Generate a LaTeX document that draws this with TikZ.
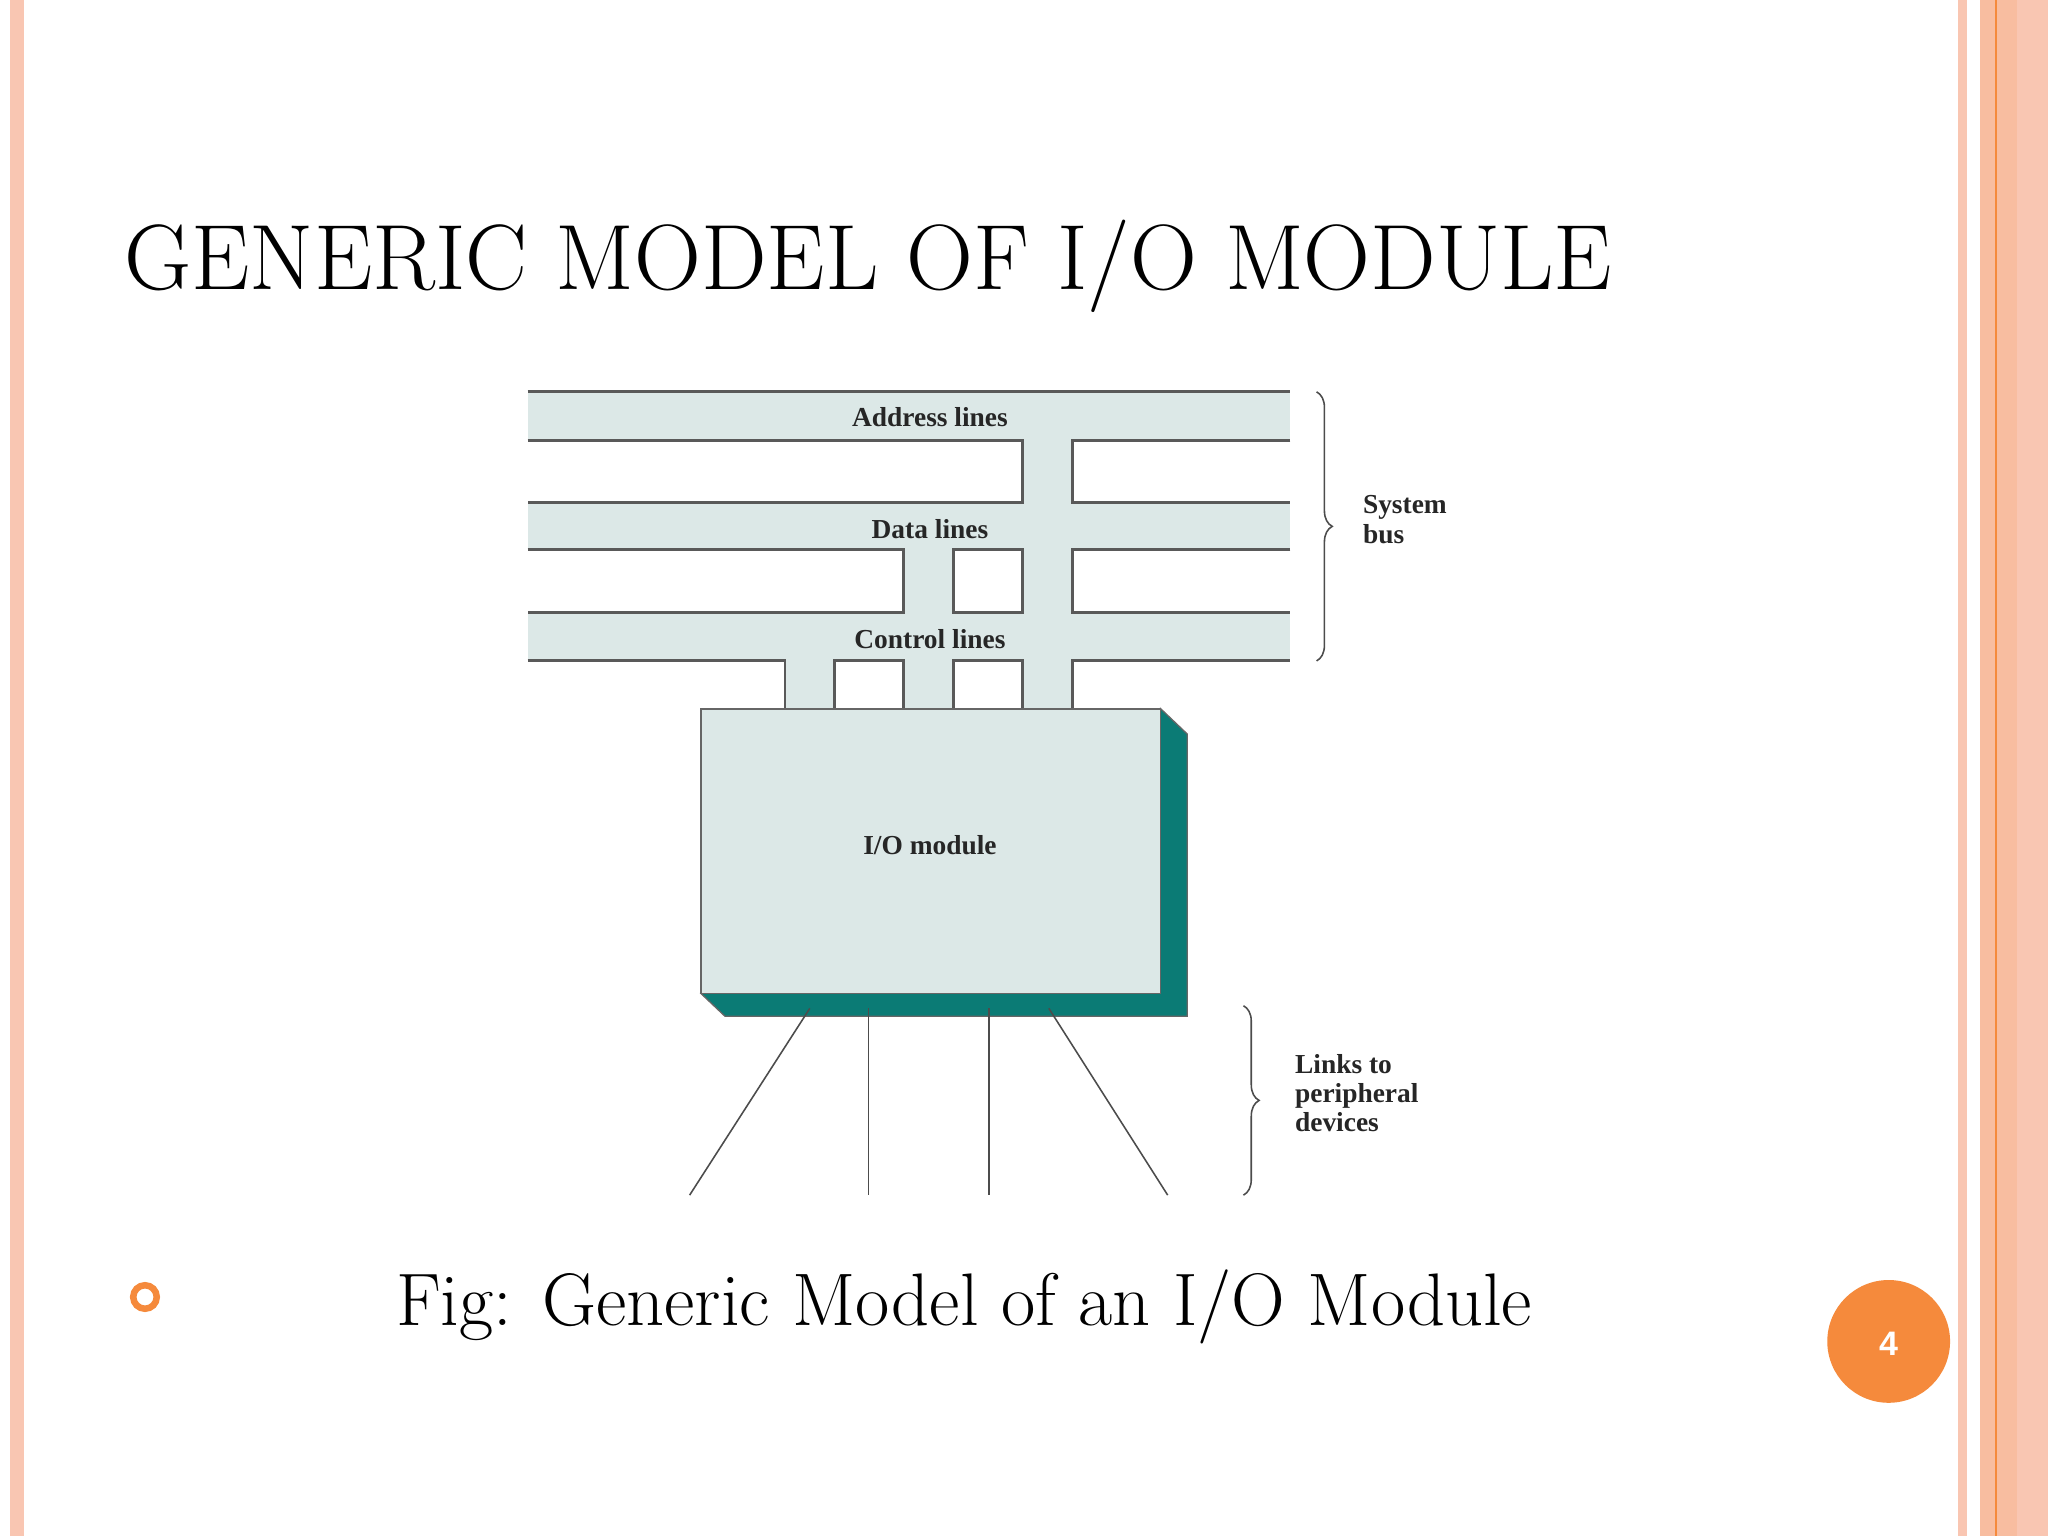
\documentclass[tikz,border=0pt]{standalone}
\usepackage{fontspec}
\newfontfamily\tnr{Liberation Serif}
\newfontfamily\lsans{Liberation Sans}
\usetikzlibrary{decorations.pathreplacing}
\definecolor{busfill}{HTML}{DCE8E7}
\definecolor{teal2}{HTML}{0B7B75}
\definecolor{pinkb}{HTML}{F9C6B2}
\definecolor{orng}{HTML}{F58A3C}
\begin{document}
\begin{tikzpicture}[x=1pt,y=-1pt,
  busline/.style={draw=black!65,line width=2.2pt},
  lbl/.style={font=\tnr\bfseries\fontsize{21}{23}\selectfont,text=black!85},
  brc/.style={draw=black!70,line width=1.2pt,decorate,decoration={brace,amplitude=12pt}}]
\useasboundingbox (0,0) rectangle (1568,1176);
\fill[white] (0,0) rectangle (1568,1176);
% borders
\fill[pinkb] (8,0) rectangle (18,1176);
\fill[pinkb] (1499,0) rectangle (1506,1176);
\fill[pinkb] (1516,0) rectangle (1568,1176);
\fill[pinkb!85!orng] (1516,0) rectangle (1544,1176);
\draw[orng,line width=1.5pt] (1528,0) -- (1528,1176);
% title
\node[anchor=base west,inner sep=0,font=\fontsize{71}{78}\selectfont] (title) at (95,222) {GENERIC MODEL OF I/O MODULE};
% buses fill
\fill[busfill] (404,300) rectangle (988,337);
\fill[busfill] (404,385) rectangle (988,421);
\fill[busfill] (404,469) rectangle (988,506);
\fill[busfill] (783,337) rectangle (821,542);
\fill[busfill] (692,421) rectangle (730,542);
\fill[busfill] (601,506) rectangle (639,542);
% bus outlines
\draw[busline] (404,300) -- (988,300);
\draw[busline] (404,337) -- (783,337) -- (783,385) -- (404,385);
\draw[busline] (988,337) -- (821,337) -- (821,385) -- (988,385);
\draw[busline] (404,421) -- (692,421) -- (692,469) -- (404,469);
\draw[busline] (988,421) -- (821,421) -- (821,469) -- (988,469);
\draw[busline] (730,421) -- (730,469) -- (783,469) -- (783,421) -- cycle;
\draw[busline] (404,506) -- (601,506) -- (601,542);
\draw[busline] (639,542) -- (639,506) -- (692,506) -- (692,542);
\draw[busline] (730,542) -- (730,506) -- (783,506) -- (783,542);
\draw[busline] (821,542) -- (821,506) -- (988,506);
\node[lbl] (addr) at (712,319) {Address lines};
\node[lbl] (data) at (712,405) {Data lines};
\node[lbl] (ctrl) at (712,489) {Control lines};
% module
\fill[teal2] (888,542) -- (909,562) -- (909,778) -- (555,778) -- (536,760) -- (888,760) -- cycle;
\draw[black!60,line width=1pt] (888,542) -- (909,562) -- (909,778) -- (555,778) -- (536,760);
\node[draw=black!60,line width=1.2pt,fill=busfill,minimum width=352pt,minimum height=218pt,anchor=north west,inner sep=0] (io) at (536,542) {};
\node[lbl] (iolbl) at (712,647) {I/O module};
% links
\coordinate (l1) at (528,915); \coordinate (l2) at (665,915);
\coordinate (l3) at (757,915); \coordinate (l4) at (894,915);
\draw[black!70,line width=1.2pt] (620,772) -- (l1);
\draw[black!70,line width=1.2pt] (665,772) -- (l2);
\draw[black!70,line width=1.2pt] (757,772) -- (l3);
\draw[black!70,line width=1.2pt] (803,772) -- (l4);
% braces
\draw[brc] (1008,300) -- (1008,506);
\node[lbl,align=left,anchor=west] (sys) at (1040,398) {System\\bus};
\draw[brc] (952,770) -- (952,915);
\node[lbl,align=left,anchor=west,font=\tnr\bfseries\fontsize{21}{22}\selectfont] (links) at (988,837) {Links to\\peripheral\\devices};
% bullet and caption
\draw[orng,line width=5pt] (111,993) circle (9);
\node[anchor=base west,inner sep=0,font=\fontsize{57}{62}\selectfont] (cap) at (303,1015) {Fig: Generic Model of an I/O Module};
\fill[orng] (1446,1027) circle (47);
\node[text=white,font=\lsans\bfseries\fontsize{26}{28}\selectfont] (pg) at (1446,1029) {4};
\end{tikzpicture}
\end{document}
